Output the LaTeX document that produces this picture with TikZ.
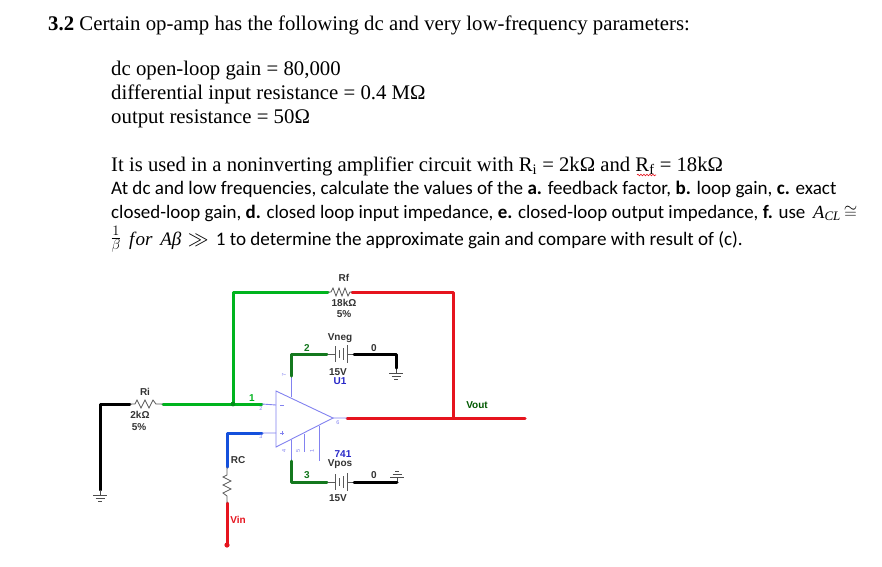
\documentclass[tikz,border=0pt]{standalone}
\usepackage{amsmath,amssymb}
\usepackage{fontspec}
\setmainfont{Liberation Serif}
\newfontfamily\calfont{Carlito}
\newfontfamily\labfont{Liberation Sans}
\usetikzlibrary{decorations.pathmorphing}
\definecolor{wgreen}{RGB}{0,180,30}
\definecolor{dgreen}{RGB}{20,120,30}
\definecolor{wblue}{RGB}{20,80,220}
\definecolor{wred}{RGB}{230,20,30}
\definecolor{opa}{RGB}{130,130,240}
\definecolor{lblue}{RGB}{40,40,200}
\tikzset{
 x=1pt,y=-1pt,
 txt/.style={anchor=base west,inner sep=0pt,font=\fontsize{20.8}{22}\selectfont},
 caltxt/.style={anchor=base west,inner sep=0pt,font=\calfont\fontsize{19.1}{20}\selectfont},
 lbl/.style={inner sep=0pt,font=\labfont\bfseries\fontsize{10}{10}\selectfont,text=black!80},
 pinl/.style={inner sep=0pt,font=\labfont\fontsize{5.5}{5.5}\selectfont,text=opa},
 wire/.style={line width=3pt,line cap=round,line join=round},
 thinwire/.style={line width=0.9pt,color=opa},
 comp/.style={line width=0.8pt,color=black!65},
 gnd/.style={line width=0.8pt,color=black!70},
}
\newcommand{\gndsym}[2]{%
 \draw[gnd] (#1,#2) -- (#1,#2+5) (#1-7,#2+5) -- (#1+7,#2+5) (#1-4.5,#2+8) -- (#1+4.5,#2+8) (#1-2,#2+11) -- (#1+2,#2+11);}
\newcommand{\battery}[2]{%
 \draw[comp] (#1,#2) -- (#1+7,#2) (#1+7,#2-8) -- (#1+7,#2+8) (#1+11,#2-4) -- (#1+11,#2+4) (#1+15,#2-6) -- (#1+15,#2+6) (#1+19,#2-9) -- (#1+19,#2+9) (#1+19,#2) -- (#1+25,#2);}
\begin{document}
\begin{tikzpicture}
\useasboundingbox (0,0) rectangle (882,566);
\fill[white] (0,0) rectangle (882,566);
% text
\node[txt] (t1) at (48,30) {\textbf{3.2} Certain op-amp has the following dc and very low-frequency parameters:};
\node[txt] (t2) at (111,75) {dc open-loop gain = 80,000};
\node[txt] (t3) at (111,99) {differential input resistance = 0.4 MΩ};
\node[txt] (t4) at (111,123) {output resistance = 50Ω};
\node[txt,font=\fontsize{20.7}{22}\selectfont] (t5) at (111,171) {It is used in a noninverting amplifier circuit with R\textsubscript{i} = 2kΩ and R\textsubscript{f} = 18kΩ};
\node[caltxt] (t6) at (111,194) {At dc and low frequencies, calculate the values of the \textbf{a.} feedback factor, \textbf{b.} loop gain, \textbf{c.} exact};
\node[caltxt,font=\calfont\fontsize{18.95}{20}\selectfont] (t7) at (111,218) {closed-loop gain, \textbf{d.} closed loop input impedance, \textbf{e.} closed-loop output impedance, \textbf{f.} use};
\node[inner sep=0pt,anchor=base west,font=\fontsize{18.5}{20}\selectfont] (t7b) at (813,218) {\itshape A\textsubscript{CL}\hspace{3pt}\normalfont$\cong$};
\node[inner sep=0pt,font=\fontsize{19}{20}\selectfont] (t8a) at (116,239) {$\frac{1}{\beta}$};
\node[caltxt] (t8) at (129,245) {{\rmfamily\itshape f\hspace{1pt}or\hspace{3pt} Aβ}\hspace{2pt} $\gg$\hspace{3pt} 1 to determine the approximate gain and compare with result of (c).};
\draw[wred,line width=0.6pt,decorate,decoration={snake,amplitude=0.8pt,segment length=3pt}] (637,175) -- (656,175);
% coordinates
\coordinate (junc) at (233,404);
\coordinate (fbc) at (233,292);
\coordinate (rfl) at (328,292);
\coordinate (rfr) at (352,292);
\coordinate (fbr) at (453,292);
\coordinate (outj) at (453,418);
\coordinate (vout) at (525,418);
\coordinate (opout) at (347,418);
\coordinate (ril) at (130,404);
\coordinate (rir) at (163,404);
\coordinate (gc) at (100,404);
\coordinate (gb) at (100,490);
\coordinate (inn) at (262,404);
\coordinate (inp) at (262,433);
\coordinate (bc) at (227,433);
\coordinate (rct) at (227,467);
\coordinate (rcb) at (227,503);
\coordinate (vin) at (227,545);
% wires
\draw[wire,wgreen] (rir) -- (junc) -- (inn);
\draw[wire,wgreen] (junc) -- (fbc) -- (rfl);
\draw[wire,wred] (rfr) -- (fbr) -- (outj);
\draw[wire,wred] (opout) -- (outj) -- (vout);
\draw[wire,black] (ril) -- (gc) -- (gb);
\draw[wire,wblue] (inp) -- (bc) -- (rct);
\draw[wire,wred] (rcb) -- (vin);
\fill[wred] (vin) circle (2.6);
\fill[wgreen!80!black] (junc) circle (2.4);
% resistors
\draw[comp] (ril) -- (135,404) -- (137,400) -- (141,408) -- (145,400) -- (149,408) -- (153,400) -- (156,404) -- (rir);
\draw[comp] (rfl) -- (331,292) -- (333,288) -- (336,296) -- (339,288) -- (342,296) -- (345,288) -- (348,296) -- (350,292) -- (rfr);
\draw[comp] (rct) -- (227,475) -- (223,477) -- (231,481) -- (223,485) -- (231,489) -- (223,493) -- (227,496) -- (rcb);
% grounds
\gndsym{100}{490}
\gndsym{396}{368}
\draw[gnd] (397,482) -- (397,477) (390,477) -- (404,477) (392.5,474) -- (401.5,474) (395,471) -- (399,471);
% op amp
\coordinate (tt) at (276,391);
\coordinate (tb) at (276,447);
\coordinate (apex) at (333,418);
\draw[thinwire,fill=white] (tt) -- (apex) -- (tb) -- cycle;
\draw[thinwire] (inn) -- (276,405) (inp) -- (276,433) (apex) -- (opout);
\draw[thinwire] (280,405) -- (284,405);
\draw[thinwire] (280,433) -- (284,433) (282,431) -- (282,435);
\draw[thinwire] (291,377) -- (291,397) (291,440) -- (291,461) (304,434) -- (304,452) (319,426) -- (319,461);
% power
\draw[wire,dgreen] (291,376) -- (291,354) -- (327,354);
\draw[wire,dgreen] (291,461) -- (291,482) -- (327,482);
\battery{328}{354}
\battery{328}{482}
\draw[wire,black] (354,354) -- (396,354) -- (396,368);
\draw[wire,black] (354,482) -- (397,482);
% labels
\node[lbl] (lrf) at (344,278) {Rf};
\node[lbl] (lrfv) at (344,303) {18kΩ};
\node[lbl] (lrft) at (344,314) {5\%};
\node[lbl] (lvn) at (340,338) {Vneg};
\node[lbl,text=dgreen] (l2) at (307,348) {2};
\node[lbl] (l0a) at (374,348) {0};
\node[lbl] (l15a) at (338,372) {15V};
\node[lbl,text=lblue] (lu1) at (340,381) {U1};
\node[lbl,text=lblue] (l741) at (343,454) {741};
\node[lbl] (lvp) at (340,464) {Vpos};
\node[lbl,text=dgreen] (l3) at (307,475) {3};
\node[lbl] (l0b) at (374,475) {0};
\node[lbl] (l15b) at (338,498) {15V};
\node[lbl,text=wgreen] (l1) at (252,398) {1};
\node[lbl,text=black!65!green] (lvo) at (477,405) {Vout};
\node[lbl] (lri) at (145,392) {Ri};
\node[lbl] (lriv) at (140,415) {2kΩ};
\node[lbl] (lrit) at (139,427) {5\%};
\node[lbl] (lrc) at (238,460) {RC};
\node[lbl,text=wred] (lvin) at (238,520) {Vin};
% pin labels
\node[pinl] (p2) at (261,409) {2};
\node[pinl] (p3) at (261,437) {3};
\node[pinl,rotate=90] (p7) at (284,375) {7};
\node[pinl,rotate=90] (p4) at (284,451) {4};
\node[pinl,rotate=90] (p5) at (298,451) {5};
\node[pinl,rotate=90] (p1p) at (312,451) {1};
\node[pinl] (p6) at (338,423) {6};
\end{tikzpicture}
\end{document}
